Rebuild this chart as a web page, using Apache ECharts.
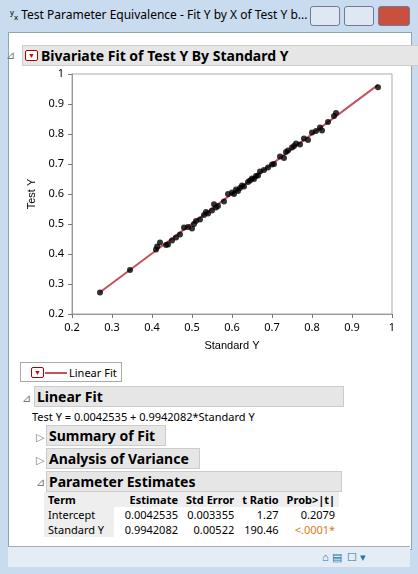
<!DOCTYPE html>
<html><head><meta charset="utf-8">
<script src="https://cdn.jsdelivr.net/npm/echarts@6/dist/echarts.min.js"></script>
<style>
body{margin:0;width:418px;height:574px;overflow:hidden;font-family:"Segoe UI","Noto Sans",sans-serif;background:#8fb3d6;}
#win{position:absolute;left:0;top:0;width:418px;height:574px;background:#c9dbee;}
#title{position:absolute;left:10px;top:6px;font-size:12px;color:#000;}
#client{position:absolute;left:8px;top:32px;width:402px;height:516px;background:#fff;border:1px solid #8aa;}
#status{position:absolute;left:8px;top:546px;width:402px;height:20px;background:#e4ecf5;border-top:1px solid #aab;}
.hdr{position:absolute;background:#e6e6e6;border:1px solid #ccc;font-weight:bold;color:#000;}
.txt{position:absolute;font-size:11px;color:#000;white-space:nowrap;}
#chart{position:absolute;left:0;top:0;width:418px;height:574px;}
table{border-collapse:collapse;font-size:11px;}
td{padding:0 4px;height:14px;}
.btn{position:absolute;top:6px;width:28px;height:18px;border:1px solid #779;border-radius:3px;background:#dde8f4;}
</style></head><body>
<div id="win">
<div id="title">ʸₓ Test Parameter Equivalence - Fit Y by X of Test Y b...</div>
<div class="btn" style="left:310px"></div><div class="btn" style="left:344px"></div>
<div class="btn" style="left:378px;width:30px;background:#c8503c"></div>
<div id="client"></div>
<div class="hdr" style="left:22px;top:45px;width:384px;height:19px;font-size:14px;line-height:19px;padding-left:18px">Bivariate Fit of Test Y By Standard Y</div>
<div class="txt" style="left:6px;top:47px;color:#777">⊿</div>
<div style="position:absolute;left:25px;top:50px;width:11px;height:9px;border:1px solid #a00;background:#fff;border-radius:2px;color:#c00;font-size:7px;line-height:9px;text-align:center">▼</div>
<div style="position:absolute;left:20px;top:362px;width:100px;height:18px;border:1px solid #aaa;"></div>
<div style="position:absolute;left:31px;top:367px;width:11px;height:9px;border:1px solid #a00;border-radius:2px;color:#c00;font-size:7px;line-height:9px;text-align:center">▼</div>
<div style="position:absolute;left:45px;top:372px;width:22px;height:2px;background:#c9505f"></div>
<div class="txt" style="left:69px;top:365px">Linear Fit</div>
<div class="txt" style="left:22px;top:390px;color:#777">⊿</div>
<div class="hdr" style="left:34px;top:386px;width:306px;height:19px;font-size:14px;line-height:19px;padding-left:2px">Linear Fit</div>
<div class="txt" style="left:32px;top:409px">Test Y = 0.0042535  + 0.9942082*Standard Y</div>
<div class="txt" style="left:36px;top:429px;color:#777">▷</div>
<div class="hdr" style="left:46px;top:425px;width:116px;height:19px;font-size:14px;line-height:19px;padding-left:2px">Summary of Fit</div>
<div class="txt" style="left:36px;top:452px;color:#777">▷</div>
<div class="hdr" style="left:46px;top:448px;width:150px;height:19px;font-size:14px;line-height:19px;padding-left:2px">Analysis of Variance</div>
<div class="txt" style="left:36px;top:474px;color:#777">⊿</div>
<div class="hdr" style="left:46px;top:471px;width:292px;height:19px;font-size:14px;line-height:19px;padding-left:2px">Parameter Estimates</div>
<table style="position:absolute;left:44px;top:492px">
<tr style="font-weight:bold"><td style="background:#eee;width:62px">Term</td><td style="text-align:right;background:#eee;width:60px">Estimate</td><td style="text-align:right;background:#eee">Std Error</td><td style="text-align:right;background:#eee">t Ratio</td><td style="text-align:right;background:#eee">Prob&gt;|t|</td></tr>
<tr><td style="background:#eee">Intercept</td><td style="text-align:right">0.0042535</td><td style="text-align:right">0.003355</td><td style="text-align:right">1.27</td><td style="text-align:right">0.2079</td></tr>
<tr><td style="background:#eee">Standard Y</td><td style="text-align:right">0.9942082</td><td style="text-align:right">0.00522</td><td style="text-align:right">190.46</td><td style="text-align:right;color:#e07a20">&lt;.0001*</td></tr>
</table>
<div id="status"></div>
<div class="txt" style="left:322px;top:549px;color:#27a">⌂ ▤ &nbsp;☐ ▾</div>
</div>
<div id="chart"></div>
<script>
var xVals = [0.27,0.345,0.41,0.413,0.42,0.435,0.44,0.45,0.46,0.47,0.48,0.49,0.5,0.505,0.51,0.52,0.53,0.535,0.54,0.55,0.555,0.56,0.565,0.58,0.59,0.6,0.605,0.61,0.615,0.62,0.625,0.63,0.64,0.645,0.65,0.655,0.66,0.665,0.67,0.68,0.69,0.7,0.705,0.72,0.73,0.735,0.74,0.75,0.755,0.76,0.77,0.78,0.79,0.8,0.81,0.82,0.825,0.84,0.855,0.86,0.965];
var yVals = [0.272,0.347,0.415,0.425,0.438,0.43,0.432,0.445,0.455,0.465,0.488,0.49,0.485,0.5,0.51,0.515,0.53,0.54,0.535,0.545,0.566,0.555,0.56,0.575,0.6,0.605,0.6,0.615,0.61,0.62,0.628,0.625,0.64,0.645,0.652,0.65,0.66,0.662,0.675,0.68,0.688,0.698,0.7,0.725,0.72,0.74,0.745,0.755,0.76,0.768,0.765,0.785,0.78,0.805,0.81,0.822,0.812,0.84,0.86,0.87,0.956];
var intercept = 0.0042535, slope = 0.9942082;
var fitX = [0.27, 0.965];

var points = xVals.map(function (x, i) { return [x, yVals[i]]; });
var fit = fitX.map(function (x) { return [x, intercept + slope * x]; });

var myChart = echarts.init(document.getElementById("chart"), null, { renderer: "canvas" });
var axisCommon = {
  min: 0.2, max: 1, interval: 0.1,
  axisLine: { show: true, onZero: false, lineStyle: { color: "#999" } },
  axisTick: { show: true, length: 4, lineStyle: { color: "#777" } },
  axisLabel: { color: "#000", fontSize: 11, fontFamily: "Segoe UI, Noto Sans", formatter: function (v) { return +v.toFixed(1) + ""; } },
  splitLine: { show: false },
  nameLocation: "middle",
  nameTextStyle: { color: "#000", fontSize: 11 }
};
myChart.setOption({
  animation: false,
  grid: { left: 72, top: 74, width: 320, height: 240, show: true, borderColor: "#aaa", backgroundColor: "#fff" },
  xAxis: Object.assign({}, axisCommon, { type: "value", name: "Standard Y", nameGap: 26 }),
  yAxis: Object.assign({}, axisCommon, { type: "value", name: "Test Y", nameGap: 34 }),
  series: [
    { type: "line", data: fit, symbol: "none", lineStyle: { color: "#c9505f", width: 2 }, z: 2 },
    { type: "scatter", data: points, symbolSize: 6, itemStyle: { color: "#000" }, z: 3 }
  ]
});
window.addEventListener("resize", myChart.resize);
</script>
</body></html>
